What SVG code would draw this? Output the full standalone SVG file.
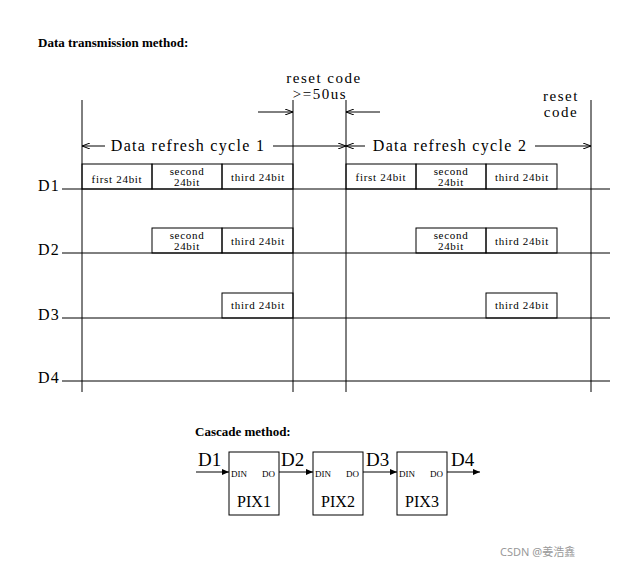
<svg xmlns="http://www.w3.org/2000/svg" width="640" height="571" viewBox="0 0 640 571">
<defs>
<marker id="a" markerWidth="8" markerHeight="6" refX="8" refY="3" orient="auto-start-reverse" markerUnits="userSpaceOnUse"><path d="M0,0 L8,3 L0,6" fill="none" stroke="#000" stroke-width="1"/></marker>
<marker id="f" markerWidth="7" markerHeight="6" refX="7" refY="3" orient="auto" markerUnits="userSpaceOnUse"><path d="M0,0 L7,3 L0,6Z" fill="#000"/></marker>
</defs>
<style>
line,rect{stroke:#000;stroke-width:1;fill:none}
text{font-family:"Liberation Serif",serif;fill:#000}
.s{font-size:11px;text-anchor:middle;letter-spacing:0.7px}
.m{font-size:16px;letter-spacing:1.3px}
.r{font-size:15px;letter-spacing:1.5px}
.b{font-size:13px;font-weight:bold}
.l{font-size:16px}
</style>
<rect x="0" y="0" width="640" height="571" style="fill:#fff;stroke:none"/>
<text class="b" x="38" y="47">Data transmission method:</text>
<g id="grid">
<line x1="82" y1="100" x2="82" y2="392"/>
<line x1="293" y1="100" x2="293" y2="392"/>
<line x1="346" y1="100" x2="346" y2="392"/>
<line x1="591" y1="100" x2="591" y2="392"/>
<line x1="62" y1="189" x2="610" y2="189"/>
<line x1="62" y1="253" x2="610" y2="253"/>
<line x1="62" y1="318" x2="610" y2="318"/>
<line x1="62" y1="381" x2="610" y2="381"/>
<text class="m" x="38" y="191">D1</text>
<text class="m" x="38" y="255">D2</text>
<text class="m" x="38" y="320">D3</text>
<text class="m" x="38" y="383">D4</text>
</g>
<g id="labels">
<text class="r" x="324" y="83" text-anchor="middle">reset code</text>
<text class="r" x="320" y="99" text-anchor="middle">&gt;=50us</text>
<text class="r" x="561" y="101" text-anchor="middle">reset</text>
<text class="r" x="561" y="117" text-anchor="middle">code</text>
<text class="m" x="188" y="151" text-anchor="middle">Data refresh cycle 1</text>
<text class="m" x="450" y="151" text-anchor="middle">Data refresh cycle 2</text>
</g>
<g id="boxes">
<rect x="82" y="164" width="70" height="25"/><text class="s" x="117" y="183">first 24bit</text>
<rect x="152" y="164" width="70" height="25"/><text class="s" x="187" y="175">second</text><text class="s" x="187" y="186">24bit</text>
<rect x="222" y="164" width="71" height="25"/><text class="s" x="258" y="181">third 24bit</text>
<rect x="346" y="164" width="70" height="25"/><text class="s" x="381" y="181">first 24bit</text>
<rect x="416" y="164" width="70" height="25"/><text class="s" x="451" y="175">second</text><text class="s" x="451" y="186">24bit</text>
<rect x="486" y="164" width="71" height="25"/><text class="s" x="522" y="181">third 24bit</text>
<rect x="152" y="228" width="70" height="25"/><text class="s" x="187" y="239">second</text><text class="s" x="187" y="250">24bit</text>
<rect x="222" y="228" width="71" height="25"/><text class="s" x="258" y="245">third 24bit</text>
<rect x="416" y="228" width="70" height="25"/><text class="s" x="451" y="239">second</text><text class="s" x="451" y="250">24bit</text>
<rect x="486" y="228" width="71" height="25"/><text class="s" x="522" y="245">third 24bit</text>
<rect x="222" y="293" width="71" height="25"/><text class="s" x="258" y="309">third 24bit</text>
<rect x="486" y="293" width="71" height="25"/><text class="s" x="522" y="309">third 24bit</text>
</g>
<g id="connectors">
<line x1="258" y1="112" x2="293" y2="112" marker-end="url(#a)"/>
<line x1="380" y1="112" x2="346" y2="112" marker-end="url(#a)"/>
<line x1="82" y1="146" x2="105" y2="146" marker-start="url(#a)"/>
<line x1="273" y1="146" x2="346" y2="146" marker-end="url(#a)"/>
<line x1="346" y1="146" x2="365" y2="146" marker-start="url(#a)"/>
<line x1="535" y1="146" x2="591" y2="146" marker-end="url(#a)"/>
<line x1="196" y1="472" x2="229" y2="472" marker-end="url(#f)"/>
<line x1="279" y1="472" x2="313" y2="472" marker-end="url(#f)"/>
<line x1="363" y1="472" x2="397" y2="472" marker-end="url(#f)"/>
<line x1="447" y1="472" x2="480" y2="472" marker-end="url(#f)"/>
</g>
<text class="b" x="195" y="436">Cascade method:</text>
<text class="l" x="198" y="466" style="font-size:19px">D1</text>
<text class="l" x="281" y="466" style="font-size:19px">D2</text>
<text class="l" x="366" y="466" style="font-size:19px">D3</text>
<text class="l" x="451" y="466" style="font-size:19px">D4</text>
<g id="pix1"><rect x="229" y="452" width="50" height="63"/><text x="231" y="477" style="font-size:9px">DIN</text><text x="262" y="477" style="font-size:9px">DO</text><text x="254" y="507" class="l" text-anchor="middle">PIX1</text></g>
<g id="pix2"><rect x="313" y="452" width="50" height="63"/><text x="315" y="477" style="font-size:9px">DIN</text><text x="346" y="477" style="font-size:9px">DO</text><text x="338" y="507" class="l" text-anchor="middle">PIX2</text></g>
<g id="pix3"><rect x="397" y="452" width="50" height="63"/><text x="399" y="477" style="font-size:9px">DIN</text><text x="430" y="477" style="font-size:9px">DO</text><text x="422" y="507" class="l" text-anchor="middle">PIX3</text></g>
<text x="500" y="556" style="font-family:'Noto Sans','Noto Sans CJK SC',sans-serif;font-size:11px;fill:#999">CSDN @姜浩鑫</text>
</svg>
